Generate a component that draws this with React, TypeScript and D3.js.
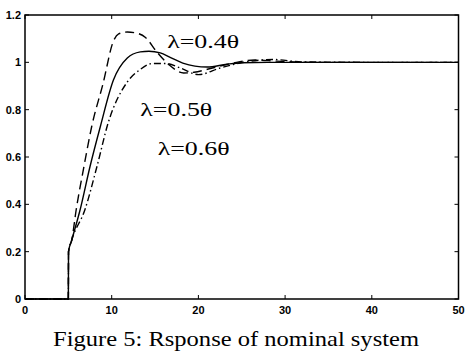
import React from "react";
import * as d3 from "d3";

const xTicks = [0, 10, 20, 30, 40, 50];
const yTicks = [0, 0.2, 0.4, 0.6, 0.8, 1, 1.2];
const yTickLabels = ["0", "0.2", "0.4", "0.6", "0.8", "1", "1.2"];

// λ=0.4θ (dashed)
const tA = [0, 5, 5.02, 5.4, 5.9, 6.8, 7.7, 9.0, 10.2, 10.8, 11.8, 12.7, 13.9, 15.2, 16.6, 18.3, 19.5, 21.5, 24, 26.5, 29, 33, 40, 50];
const yA = [0, 0, 0.2, 0.25, 0.376, 0.56, 0.73, 0.91, 1.09, 1.12, 1.128, 1.125, 1.105, 1.044, 0.99, 0.955, 0.958, 0.975, 0.997, 1.01, 1.005, 1.0, 1.0, 1.0];

// λ=0.5θ (solid)
const tB = [0, 5, 5.02, 5.4, 6.35, 7.5, 8.7, 10.2, 11.8, 13.3, 14.3, 15.6, 16.8, 18.2, 19.6, 21, 23.3, 25, 28, 32, 40, 50];
const yB = [0, 0, 0.2, 0.25, 0.376, 0.56, 0.73, 0.925, 1.018, 1.044, 1.047, 1.04, 1.02, 0.997, 0.984, 0.98, 0.992, 0.998, 1.0, 1.0, 1.0, 1.0];

// λ=0.6θ (dash-dot)
const tC = [0, 5, 5.02, 5.4, 6.9, 8.3, 9.6, 11.8, 13.3, 14.7, 16.2, 18, 20, 22.5, 24.8, 28.6, 32, 40, 50];
const yC = [0, 0, 0.2, 0.25, 0.376, 0.56, 0.745, 0.917, 0.97, 0.995, 0.995, 0.975, 0.948, 0.976, 0.997, 1.012, 1.002, 1.0, 1.0];

const labels = [
  { text: "λ=0.4θ", x: 16.4, y: 1.06 },
  { text: "λ=0.5θ", x: 13.3, y: 0.773 },
  { text: "λ=0.6θ", x: 15.3, y: 0.608 },
];

const SERIF = "'Liberation Serif', 'Times New Roman', serif";
const SANS = "'Liberation Sans', Arial, sans-serif";

export default function App() {
  const W = 474, H = 351;
  const x = d3.scaleLinear().domain([0, 50]).range([25, 458.5]);
  const y = d3.scaleLinear().domain([0, 1.2]).range([299, 15]);
  const line = d3
    .line<[number, number]>()
    .x((d) => x(d[0]))
    .y((d) => y(d[1]))
    .curve(d3.curveMonotoneX);
  const zip = (t: number[], v: number[]) => t.map((tt, i) => [tt, v[i]] as [number, number]);
  const series = [
    { d: zip(tA, yA), dash: "9,5" },
    { d: zip(tB, yB), dash: "" },
    { d: zip(tC, yC), dash: "7,3,1.5,3" },
  ];
  const tick = 4;
  return (
    <svg width={W} height={H} style={{ position: "absolute", left: 0, top: 0, background: "#fff" }}>
      <rect x={0} y={0} width={W} height={H} fill="#fff" />
      {series.map((s, i) => (
        <path key={i} d={line(s.d) || ""} fill="none" stroke="#000" strokeWidth={1.4} strokeDasharray={s.dash || undefined} />
      ))}
      <rect x={x(0)} y={y(1.2)} width={x(50) - x(0)} height={y(0) - y(1.2)} fill="none" stroke="#000" strokeWidth={1.5} />
      {xTicks.map((t, i) => (
        <g key={"x" + i}>
          <line x1={x(t)} x2={x(t)} y1={y(0)} y2={y(0) - tick} stroke="#000" strokeWidth={1} />
          <line x1={x(t)} x2={x(t)} y1={y(1.2)} y2={y(1.2) + tick} stroke="#000" strokeWidth={1} />
          <text x={x(t)} y={y(0) + 15} textAnchor="middle" style={{ fontFamily: SANS }} fontSize={11} fontWeight="bold">
            {t}
          </text>
        </g>
      ))}
      {yTicks.map((v, i) => (
        <g key={"y" + i}>
          <line x1={x(0)} x2={x(0) + tick} y1={y(v)} y2={y(v)} stroke="#000" strokeWidth={1} />
          <line x1={x(50)} x2={x(50) - tick} y1={y(v)} y2={y(v)} stroke="#000" strokeWidth={1} />
          <text x={x(0) - 4} y={y(v) + 4} textAnchor="end" style={{ fontFamily: SANS }} fontSize={11} fontWeight="bold">
            {yTickLabels[i]}
          </text>
        </g>
      ))}
      {labels.map((l, i) => (
        <text key={"l" + i} x={x(l.x)} y={y(l.y)} style={{ fontFamily: SERIF }} fontSize={18} textLength={72} lengthAdjust="spacingAndGlyphs">
          {l.text}
        </text>
      ))}
      <text x={236} y={346} textAnchor="middle" style={{ fontFamily: SERIF }} fontSize={21} textLength={366} lengthAdjust="spacingAndGlyphs">
        Figure 5: Rsponse of nominal system
      </text>
    </svg>
  );
}
